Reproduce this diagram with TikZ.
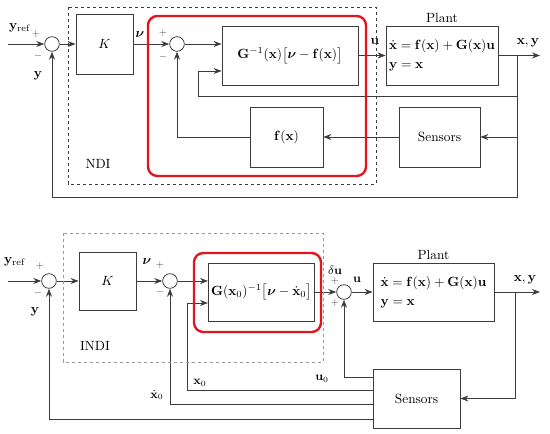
\documentclass[tikz,border=0pt]{standalone}
\usepackage{amsmath,amssymb}
\usepackage[]{bm}
\usetikzlibrary{calc,
arrows.meta,
positioning}
\definecolor{hlred}{RGB}{228,20,30}
\definecolor{lnclr}{RGB}{60,60,60}
\begin{document}
\begin{tikzpicture}[
  x=0.75pt, y=-0.75pt,
  every node/.style={font=\normalsize},
  blk/.style={draw=lnclr, semithick, inner sep=2pt},
  sumc/.style={draw=lnclr, semithick, circle, minimum size=11pt, inner sep=0pt},
  arr/.style={draw=lnclr, semithick, -{Stealth[length=6pt,width=4.5pt]}},
  sgn/.style={font=\scriptsize, text=black!70, inner sep=0pt},
  lbl/.style={inner sep=0pt}
]
\useasboundingbox (0,0) rectangle (550,434);

% ---- NDI loop ----
\node [sumc] (s1) at (52,44) {};
\node [
  blk,
  minimum width = 42.75pt,
  minimum height = 45pt] (K1) at (104.5,44) {$K$};
\node [sumc] (s2) at (177,44) {};
\node [
  blk,
  minimum width = 102pt,
  minimum height = 44.25pt] (Ginv) at (290,55.5)
  {$\mathbf{G}^{-1}(\mathbf{x})\bigl[\bm{\nu}-\mathbf{f}(\mathbf{x})\bigr]$};
\node [
  blk,
  align = left,
  minimum width = 84pt,
  minimum height = 44.25pt] (plant1) at (442,55.5)
  {$\dot{\mathbf{x}}=\mathbf{f}(\mathbf{x})+\mathbf{G}(\mathbf{x})\mathbf{u}$\\[2pt]
   $\mathbf{y}=\mathbf{x}$};
\node [above = 2pt of plant1, lbl] (plant1_lb) {Plant};
\node [
  blk,
  minimum width = 54.75pt,
  minimum height = 45pt] (fx) at (286.5,137) {$\mathbf{f}(\mathbf{x})$};
\node [
  blk,
  minimum width = 60.75pt,
  minimum height = 45pt] (sens1) at (439.5,137) {Sensors};

\coordinate (in1) at (8,44);
\coordinate (out1) at (540,55.5);
\coordinate (br1) at (517,55.5);
\coordinate (kink1) at (198,96);
\coordinate (bot1) at (52,197);

\draw [arr] (in1) -- (s1.west);
\draw [arr] (s1.east) -- (K1.west);
\draw [arr] (K1.east) -- (s2.west);
\draw [arr] (s2.east) -- (s2.east -| Ginv.west);
\draw [arr] (Ginv.east) -- (plant1.west);
\draw [arr] (plant1.east) -- (out1);
\draw [arr] (br1) |- (kink1) |- ($(Ginv.west)+(0,15.5)$);
\draw [arr] (br1) |- (sens1.east);
\draw [arr] (sens1.west) -- (fx.east);
\draw [arr] (fx.west) -| (s2.south);
\draw [arr] (br1) |- (bot1) -- (s1.south);

\node [lbl] (yref1) at (20,28) {$\mathbf{y}_{\mathrm{ref}}$};
\node [sgn] (p11) at (36,34) {$+$};
\node [sgn] (m11) at (38,56) {$-$};
\node [lbl] (y1) at (38,76) {$\mathbf{y}$};
\node [lbl] (nu1) at (140,35) {$\bm{\nu}$};
\node [sgn] (p12) at (163,33) {$+$};
\node [sgn] (m12) at (163,57) {$-$};
\node [lbl] (u1) at (375,42) {$\mathbf{u}$};
\node [lbl] (xy1) at (528,43) {$\mathbf{x},\mathbf{y}$};
\node [lbl] (ndi) at (98,164) {NDI};

\draw [lnclr, semithick, dash pattern=on 2.5pt off 2pt] (68,7) rectangle (376,184);
\draw [hlred, line width=1.8pt, rounded corners=7pt] (148,16) rectangle (366,176);

% ---- INDI loop ----
\node [sumc] (t1) at (49,281) {};
\node [
  blk,
  minimum width = 42.75pt,
  minimum height = 43.5pt] (K2) at (107.5,281) {$K$};
\node [sumc] (t2) at (170,281) {};
\node [
  blk,
  minimum width = 78.75pt,
  minimum height = 43.5pt] (G0) at (261.5,292)
  {$\mathbf{G}(\mathbf{x}_0)^{-1}\bigl[\bm{\nu}-\dot{\mathbf{x}}_0\bigr]$};
\node [sumc] (t3) at (344,292) {};
\node [
  blk,
  align = left,
  minimum width = 90.75pt,
  minimum height = 43.5pt] (plant2) at (433.5,292)
  {$\dot{\mathbf{x}}=\mathbf{f}(\mathbf{x})+\mathbf{G}(\mathbf{x})\mathbf{u}$\\[2pt]
   $\mathbf{y}=\mathbf{x}$};
\node [above = 2pt of plant2, lbl] (plant2_lb) {Plant};
\node [
  blk,
  minimum width = 65.25pt,
  minimum height = 44.25pt] (sens2) at (416.5,398.5) {Sensors};

\coordinate (in2) at (8,281);
\coordinate (out2) at (540,292);
\coordinate (br2) at (515,292);
\coordinate (x0k) at (187,303);

\draw [arr] (in2) -- (t1.west);
\draw [arr] (t1.east) -- (K2.west);
\draw [arr] (K2.east) -- (t2.west);
\draw [arr] (t2.east) -- (t2.east -| G0.west);
\draw [arr] (G0.east) -- (t3.west);
\draw [arr] (t3.east) -- (plant2.west);
\draw [arr] (plant2.east) -- (out2);
\draw [arr] (br2) |- (sens2.east);
\draw [arr] ($(sens2.north west)+(0,9)$) -| (t3.south);
\draw [arr] ($(sens2.north west)+(0,22)$) -| (x0k) -- (x0k -| G0.west);
\draw [arr] ($(sens2.north west)+(0,36)$) -| (t2.south);
\draw [arr] ($(sens2.north west)+(0,51)$) -| (t1.south);

\node [lbl] (yref2) at (15,262) {$\mathbf{y}_{\mathrm{ref}}$};
\node [sgn] (p21) at (40,266) {$+$};
\node [sgn] (m21) at (38,293) {$-$};
\node [lbl] (y2) at (35,312) {$\mathbf{y}$};
\node [lbl] (nu2) at (147,262) {$\bm{\nu}$};
\node [sgn] (p22) at (160,265) {$+$};
\node [sgn] (m22) at (160,292) {$-$};
\node [lbl, font=\small] (du) at (335,270) {$\delta\mathbf{u}$};
\node [sgn] (p31) at (335,281) {$+$};
\node [sgn] (p32) at (335,303) {$+$};
\node [lbl, font=\small] (u2) at (357,280) {$\mathbf{u}$};
\node [lbl, font=\small] (u0) at (322,379) {$\mathbf{u}_0$};
\node [lbl, font=\small] (x0) at (200,383) {$\mathbf{x}_0$};
\node [lbl, font=\small] (xd0) at (157,395) {$\dot{\mathbf{x}}_0$};
\node [lbl] (xy2) at (525,280) {$\mathbf{x},\mathbf{y}$};
\node [lbl] (indi) at (95,346) {INDI};

\draw [black!40, semithick, dash pattern=on 2.5pt off 2pt] (63,233) rectangle (323,362);
\draw [hlred, line width=1.8pt, rounded corners=7pt] (194,253) rectangle (321,332);

\end{tikzpicture}
\end{document}
